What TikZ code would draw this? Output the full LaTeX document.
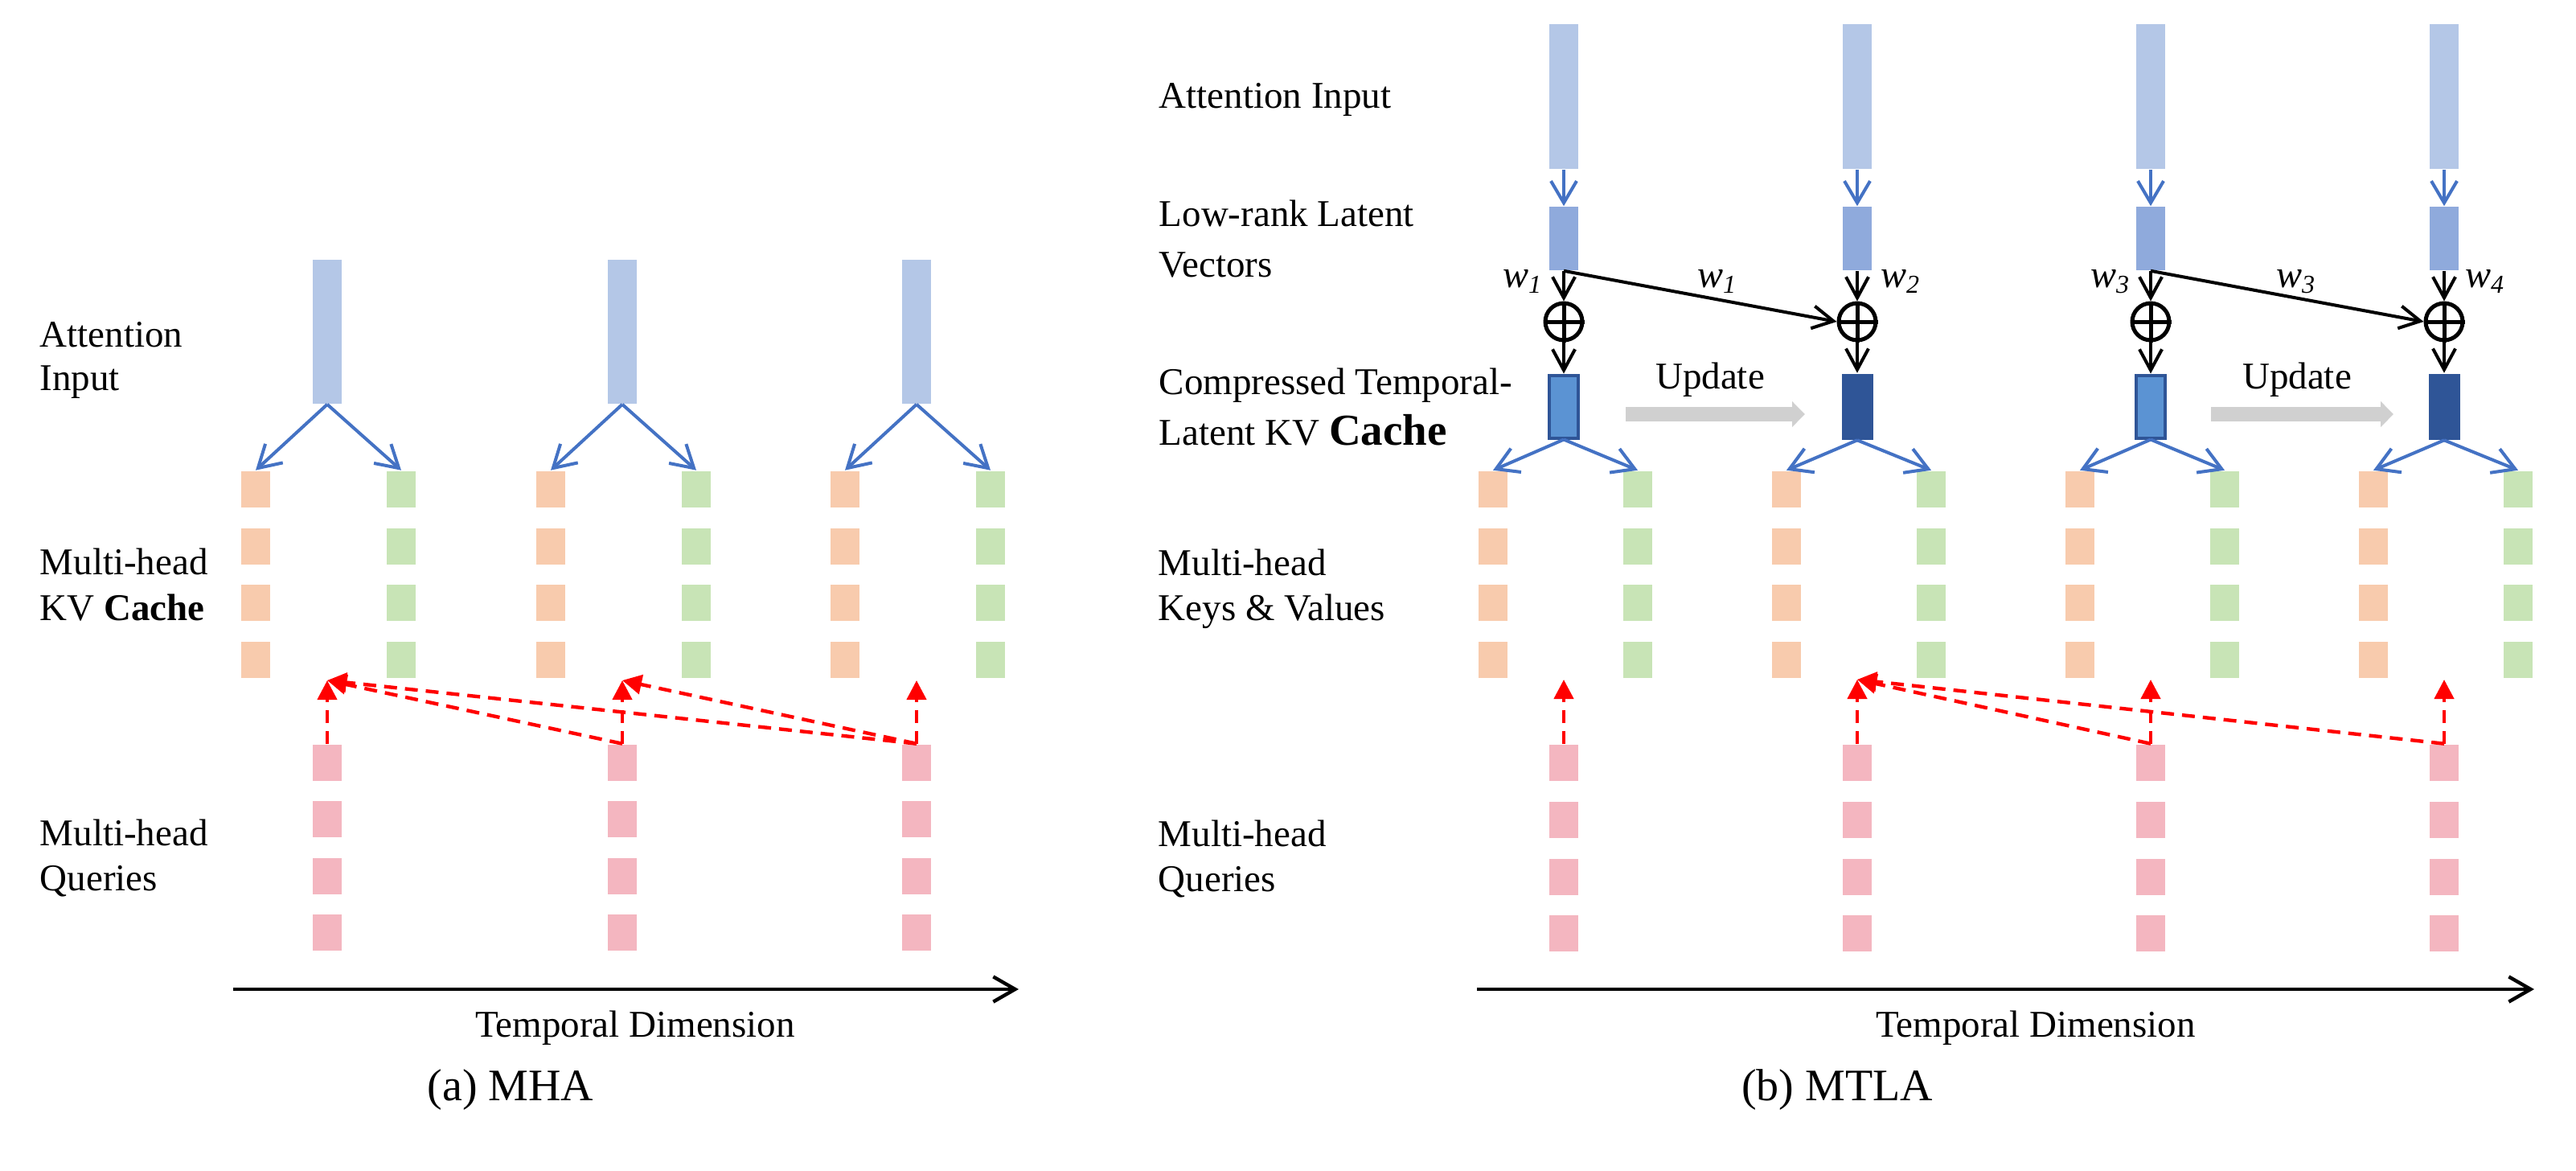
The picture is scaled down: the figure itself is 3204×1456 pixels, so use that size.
\documentclass[tikz,border=0pt]{standalone}
\usepackage{fontspec}
\setmainfont{Liberation Serif}
\usetikzlibrary{arrows.meta}
\definecolor{inblue}{HTML}{B4C7E7}
\definecolor{latblue}{HTML}{8FAADC}
\definecolor{cachemid}{HTML}{5B93D3}
\definecolor{cachedark}{HTML}{2F5597}
\definecolor{kcol}{HTML}{F8CBAD}
\definecolor{vcol}{HTML}{C8E4B6}
\definecolor{qcol}{HTML}{F4B6C0}
\definecolor{arrblue}{HTML}{4472C4}
\definecolor{updgray}{HTML}{D0D0D0}
\tikzset{
 lbl/.style={font=\fontsize{11.75pt}{14pt}\selectfont, inner sep=0pt, anchor=base west},
 caplbl/.style={font=\fontsize{14pt}{17pt}\selectfont, inner sep=0pt, anchor=base},
 axislbl/.style={font=\fontsize{11.75pt}{14pt}\selectfont, inner sep=0pt, anchor=base},
 wlbl/.style={font=\fontsize{12pt}{14pt}\selectfont\itshape, inner sep=0pt, anchor=base},
 updlbl/.style={font=\fontsize{11.75pt}{14pt}\selectfont, inner sep=0pt, anchor=base},
 inbarL/.style={fill=inblue, minimum width=9pt, minimum height=44.75pt, inner sep=0pt},
 inbarR/.style={fill=inblue, minimum width=9pt, minimum height=45pt, inner sep=0pt},
 latent/.style={fill=latblue, minimum width=9pt, minimum height=19.75pt, inner sep=0pt},
 cachenew/.style={fill=cachemid, draw=cachedark, line width=1pt, minimum width=9pt, minimum height=19.5pt, inner sep=0pt},
 cacheold/.style={fill=cachedark, minimum width=9.75pt, minimum height=20.5pt, inner sep=0pt},
 kbox/.style={fill=kcol, minimum width=9pt, minimum height=11.25pt, inner sep=0pt},
 vlbox/.style={fill=vcol, minimum width=9pt, minimum height=11.25pt, inner sep=0pt},
 qbox/.style={fill=qcol, minimum width=9pt, minimum height=11.25pt, inner sep=0pt},
 plusc/.style={circle, draw, line width=1.25pt, minimum size=11.5pt, inner sep=0pt},
 bluearr/.style={draw=arrblue, line width=1pt, -{Straight Barb[length=6.8pt,width=8pt]}},
 blackarr/.style={draw=black, line width=1pt, -{Straight Barb[length=6.5pt,width=7pt]}},
 redarr/.style={draw=red, line width=1.1pt, dash pattern=on 4pt off 2.5pt, -{Triangle[length=6pt,width=6pt]}},
 updarr/.style={draw=updgray, line width=4.5pt, -{Triangle[length=4pt,width=7.75pt]}},
 timearr/.style={draw=black, line width=1.1pt, -{Straight Barb[length=6.8pt,width=7.8pt]}},
}
\begin{document}
\begin{tikzpicture}[x=0.25pt,y=-0.25pt]
\fill[white] (0,0) rectangle (3204,1456);
\useasboundingbox (0,0) rectangle (3204,1456);

% ---------------- (a) MHA ----------------
\foreach \i/\cx in {1/407,2/774,3/1140}{
  \node[inbarL] (La\i) at (\cx,412.5) {};
  \foreach \r/\ry in {1/608,2/679,3/749,4/820}{
    \node[kbox] (Lk\i\r) at (\cx-89,\ry) {};
    \node[vlbox] (Lv\i\r) at (\cx+92,\ry) {};
  }
  \foreach \r/\ry in {1/948,2/1018,3/1089,4/1159}{
    \node[qbox] (Lq\i\r) at (\cx,\ry) {};
  }
  \draw[bluearr] (La\i.south) -- (Lk\i1.north);
  \draw[bluearr] (La\i.south) -- (Lv\i1.north);
  \coordinate (Lt\i) at (\cx,846);
}
\draw[redarr] (Lq11.north) -- (Lt1);
\draw[redarr] (Lq21.north) -- (Lt2);
\draw[redarr] (Lq21.north) -- (Lt1);
\draw[redarr] (Lq31.north) -- (Lt3);
\draw[redarr] (Lq31.north) -- (Lt2);
\draw[redarr] (Lq31.north) -- (Lt1);

\node[lbl] (LlA1) at (49,431) {Attention};
\node[lbl] (LlA2) at (49,485) {Input};
\node[lbl] (LlK1) at (49,714) {Multi-head};
\node[lbl] (LlK2) at (49,771) {KV \textbf{Cache}};
\node[lbl] (LlQ1) at (49,1051) {Multi-head};
\node[lbl] (LlQ2) at (49,1107) {Queries};

\coordinate (Tl0) at (290,1230);
\coordinate (Tl1) at (1267,1230);
\draw[timearr] (Tl0) -- (Tl1);
\node[axislbl] (TlL) at (790,1289) {Temporal Dimension};
\node[caplbl] (CapA) at (635,1368) {(a) MHA};

% ---------------- (b) MTLA ----------------
\foreach \i/\cx/\cs in {1/1945/cachenew,2/2310/cacheold,3/2675/cachenew,4/3040/cacheold}{
  \node[inbarR] (Ra\i) at (\cx,120) {};
  \node[latent] (Rl\i) at (\cx,296.5) {};
  \node[plusc] (Rp\i) at (\cx,400) {};
  \draw[line width=1.25pt] (Rp\i.north) -- (Rp\i.south) (Rp\i.west) -- (Rp\i.east);
  \node[\cs] (Rc\i) at (\cx,505.5) {};
  \foreach \r/\ry in {1/608,2/679,3/749,4/820}{
    \node[kbox] (Rk\i\r) at (\cx-88,\ry) {};
    \node[vlbox] (Rv\i\r) at (\cx+92,\ry) {};
  }
  \foreach \r/\ry in {1/948,2/1019,3/1090,4/1160}{
    \node[qbox] (Rq\i\r) at (\cx,\ry) {};
  }
  \draw[bluearr] (Ra\i.south) -- (Rl\i.north);
  \draw[blackarr] (Rl\i.south) -- (Rp\i.north);
  \draw[blackarr] (Rp\i.south) -- (Rc\i.north);
  \draw[bluearr] (Rc\i.south) -- (Rk\i1.north);
  \draw[bluearr] (Rc\i.south) -- (Rv\i1.north);
  \coordinate (Rt\i) at (\cx,845);
  \draw[redarr] (Rq\i1.north) -- (Rt\i);
}
\draw[blackarr] (Rl1.south) -- (Rp2.west);
\draw[blackarr] (Rl3.south) -- (Rp4.west);
\draw[redarr] (Rq31.north) -- (Rt2);
\draw[redarr] (Rq41.north) -- (Rt2);

\node[wlbl] (Rw1) at (1894,357) {w\textsubscript{1}};
\node[wlbl] (Rw1b) at (2136,357) {w\textsubscript{1}};
\node[wlbl] (Rw2) at (2364,357) {w\textsubscript{2}};
\node[wlbl] (Rw3) at (2625,357) {w\textsubscript{3}};
\node[wlbl] (Rw3b) at (2856,357) {w\textsubscript{3}};
\node[wlbl] (Rw4) at (3091,357) {w\textsubscript{4}};

\coordinate (Ug1s) at (2022,515);
\coordinate (Ug1e) at (2245,515);
\coordinate (Ug2s) at (2750,515);
\coordinate (Ug2e) at (2977,515);
\draw[updarr] (Ug1s) -- (Ug1e);
\draw[updarr] (Ug2s) -- (Ug2e);
\node[updlbl] (Up1) at (2127,483) {Update};
\node[updlbl] (Up2) at (2857,483) {Update};

\node[lbl] (RlA) at (1441,134) {Attention Input};
\node[lbl] (RlL1) at (1441,281) {Low-rank Latent};
\node[lbl] (RlL2) at (1441,344) {Vectors};
\node[lbl] (RlC1) at (1441,490) {Compressed Temporal-};
\node[lbl] (RlC2) at (1441,553) {Latent KV {\fontsize{13.75pt}{16pt}\selectfont\bfseries Cache}};
\node[lbl] (RlK1) at (1440,715) {Multi-head};
\node[lbl] (RlK2) at (1440,771) {Keys \& Values};
\node[lbl] (RlQ1) at (1440,1052) {Multi-head};
\node[lbl] (RlQ2) at (1440,1108) {Queries};

\coordinate (Tr0) at (1837,1230);
\coordinate (Tr1) at (3152,1230);
\draw[timearr] (Tr0) -- (Tr1);
\node[axislbl] (TrL) at (2532,1289) {Temporal Dimension};
\node[caplbl] (CapB) at (2285,1368) {(b) MTLA};
\end{tikzpicture}
\end{document}
